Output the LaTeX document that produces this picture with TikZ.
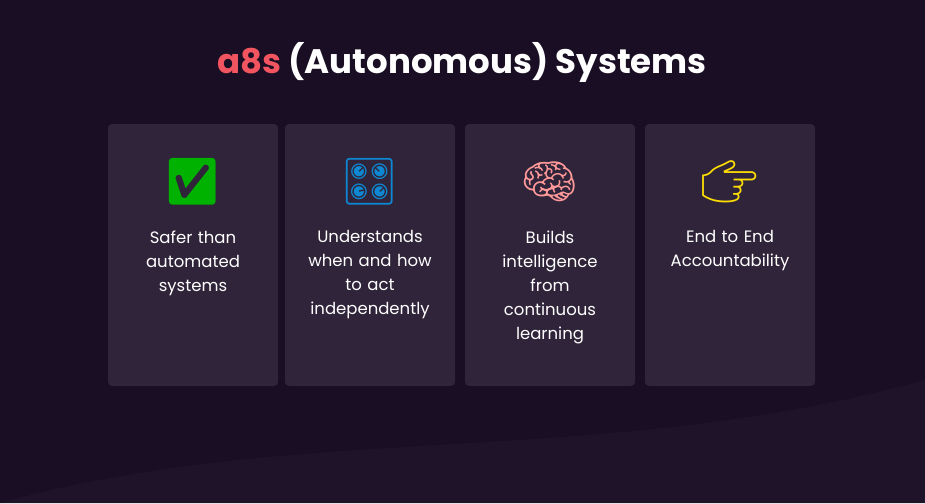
\documentclass[tikz,border=0pt]{standalone}
\usepackage{fontspec}
\setmainfont{Poppins}
\newfontfamily\emo{Noto Emoji}
\definecolor{bg}{HTML}{1A0E24}
\definecolor{card}{HTML}{2F2439}
\definecolor{tred}{HTML}{F25560}
\begin{document}
\begin{tikzpicture}[x=1pt,y=-1pt,
  cardbox/.style={fill=card,rounded corners=4pt,draw=none},
  emj/.style={font=\emo\fontsize{46}{46}\selectfont},
  txt/.style={text=white,align=center,font=\fontsize{16.5}{24}\selectfont,anchor=north,text width=150pt}]
\fill[bg] (0,0) rectangle (925,503);
\useasboundingbox (0,0) rectangle (925,503);
\fill[card!25!bg] (0,503) .. controls (300,420) and (600,470) .. (925,380) -- (925,503) -- cycle;
\node[font=\bfseries\fontsize{34}{40}\selectfont,text=white] (title) at (462,62) {\textcolor{tred}{a8s} (Autonomous) Systems};
\foreach \x/\n in {108/a,285/b,465/c,645/d}
  \fill[cardbox] (\x,124) rectangle (\x+170,386) coordinate (\n);
\node[emj,text=green!70!black] (e1) at (193,182) {✅};
\node[emj,text=cyan!70!blue] (e2) at (370,182) {🎛};
\node[emj,text=pink!80!red] (e3) at (550,182) {🧠};
\node[emj,text=yellow!80!orange] (e4) at (730,182) {👉};
\node[txt] (t1) at (193,227) {Safer than\\automated\\systems};
\node[txt] (t2) at (370,227) {Understands\\when and how\\to act\\independently};
\node[txt] (t3) at (550,227) {Builds\\intelligence\\from\\continuous\\learning};
\node[txt] (t4) at (730,227) {End to End\\Accountability};
\end{tikzpicture}
\end{document}
